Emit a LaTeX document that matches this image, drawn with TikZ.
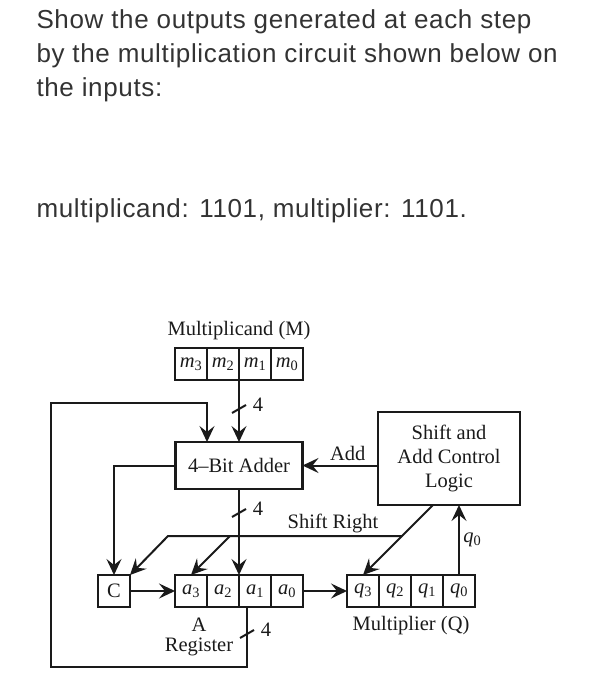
\documentclass[tikz,border=0pt]{standalone}
\usepackage{fontspec}
\setmainfont{Liberation Serif}
\newfontfamily\headfont[LetterSpace=2.5]{Liberation Sans}
\usetikzlibrary{arrows.meta}
\definecolor{ink}{HTML}{1A1A1A}
\definecolor{prose}{HTML}{333333}
\newcommand{\reg}[2]{\textit{#1}\textsubscript{#2}}

\begin{document}
\begin{tikzpicture}[x=1pt,y=-1pt,
	every node/.style={text=ink,font=\fontsize{20.5}{24}\selectfont},
	cell/.style={draw=ink,line width=2.8pt,minimum size=32pt,inner sep=0pt,outer sep=0pt},
	blk/.style={draw=ink,line width=2.8pt,inner sep=0pt,outer sep=0pt,align=center},
	wire/.style={draw=ink,line width=2pt},
	sig/.style={wire,-{Stealth[length=16pt,width=15pt,inset=6pt]}},
	prose/.style={text=prose,anchor=base west,align=left,font=\headfont\fontsize{26}{34}\selectfont}]
\useasboundingbox (0,0) rectangle (594,700);

\node[prose] (ask) at (33,97) {Show the outputs generated at each step\\by the multiplication circuit shown below on\\the inputs:};
\node[prose] (nums) at (33,218) {multiplicand: 1101, multiplier: 1101.};

% registers
\foreach \i/\x in {3/191,2/223,1/255,0/287}{
	\node[cell] (m\i) at (\x,364) {\reg{m}{\i}};
	\node[cell] (a\i) at (\x,591) {\reg{a}{\i}};
}
\foreach \i/\x in {3/363,2/395,1/427,0/459}
	\node[cell] (q\i) at (\x,591) {\reg{q}{\i}};
\node[cell] (c) at (114,591) {C};

\node[blk,minimum width=127pt,minimum height=47pt] (adder) at (239,465.5) {4--Bit Adder};
\node[blk,minimum width=142pt,minimum height=93pt] (ctl) at (449,458.5) {Shift and\\Add Control\\Logic};

\node[anchor=base] (mlab) at (239,335) {Multiplicand (M)};
\node[align=center,font=\fontsize{20.5}{20}\selectfont] (alab) at (199,637) {A\\Register};
\node (qlab) at (411,626) {Multiplier (Q)};

% data paths
\draw[sig] (m2.south east) -- (adder.north -| m2.south east);
\coordinate (fb) at ([xshift=-8pt]a1.south);
\coordinate (loop) at (51,403);
\draw[sig] (fb) -- ++(0,60) -| (loop) -| (m3.south east |- adder.north);
\draw[sig] (adder.west) -| (c.north);
\draw[sig] (adder.south) -- (a2.north east);
\draw[sig] (c.east) -- (a3.west);
\draw[sig] (a0.east) -- (q3.west);

% bus widths
\foreach \x/\y [count=\k] in {239/409,239/513,247/634}{
	\draw[wire] (\x-7,\y+4) -- (\x+7,\y-4);
	\node (bw\k) at (\x+19,\y-4) {4};
}

% control lines
\draw[sig] (ctl.west |- adder.east) -- (adder.east) node[pos=0.4,above] (addlab) {Add};
\coordinate (srtop) at ([xshift=-16pt]ctl.south);
\draw[sig] (srtop) -- (q3.north) coordinate[pos=0.4429] (srR);
\coordinate (srL) at (168,536);
\coordinate (srA) at (230,536);
\draw[sig] (srR) -- (srL) -- (c.north east);
\draw[sig] (srA) -- (a3.north);
\node[anchor=base] (srlab) at (333,528) {Shift Right};
\draw[sig] (q0.north) -- (q0.north |- ctl.south) node[midway,right] (q0lab) {\reg{q}{0}};
\end{tikzpicture}
\end{document}
